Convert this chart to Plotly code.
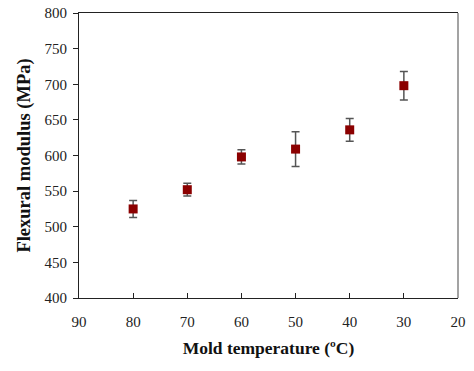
import plotly.graph_objects as go

temperature = [80, 70, 60, 50, 40, 30]
modulus = [525, 552, 598, 609, 636, 698]
error = [12, 9, 10, 24.5, 16, 20]

x_ticks = [90, 80, 70, 60, 50, 40, 30, 20]
y_ticks = [400, 450, 500, 550, 600, 650, 700, 750, 800]

fig = go.Figure()
fig.add_trace(go.Scatter(
    x=temperature, y=modulus, mode="markers",
    marker=dict(symbol="square", size=9, color="#8B0000"),
    error_y=dict(type="data", array=error, visible=True, color="#555555", thickness=1.5, width=4),
    showlegend=False,
))

font_family = "Liberation Serif"
fig.update_layout(
    width=474, height=371,
    margin=dict(l=79, r=16, t=13, b=73),
    paper_bgcolor="white", plot_bgcolor="white",
    font=dict(family=font_family, size=15, color="#222222"),
    xaxis=dict(
        range=[90, 20], tickvals=x_ticks, ticks="inside", ticklen=5, tickcolor="#222222",
        showline=True, linecolor="#222222", linewidth=1.2, mirror=True,
        showgrid=False, zeroline=False, ticklabelstandoff=10, automargin=False,
        ticklabeloverflow="allow",
        title=dict(text="<b>Mold temperature (ºC)</b>", font=dict(family=font_family, size=17.5, color="#111111"), standoff=12),
    ),
    yaxis=dict(
        range=[400, 800], tickvals=y_ticks, ticks="outside", ticklen=5, tickcolor="#222222",
        showline=True, linecolor="#222222", linewidth=1.2, automargin=False,
        showgrid=False, zeroline=False, ticklabelstandoff=3, ticklabeloverflow="allow",
        title=dict(text="<b>Flexural modulus (MPa)</b>", font=dict(family=font_family, size=18.5, color="#111111"), standoff=8),
    ),
)
fig.add_shape(type="line", xref="paper", yref="paper", x0=1, x1=1, y0=0, y1=1,
              line=dict(color="#666666", width=1.2))
fig.write_html("out.html", config={"displayModeBar": False},
               post_script="document.body.style.margin='0';")
